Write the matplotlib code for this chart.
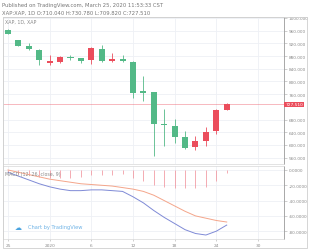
import matplotlib
matplotlib.use("Agg")
import matplotlib.pyplot as plt
from matplotlib.patches import Rectangle

# daily candles, oldest first (green = falling, red = rising on this chart)
opens = [963, 930, 912, 900, 858, 861, 876, 873, 866, 902, 865,
         872, 862, 770, 766, 666, 661, 626, 593, 611, 645, 710.04]
highs = [966, 932, 921, 903, 883, 880, 883, 875, 907, 916, 890,
         883, 864, 818, 768, 713, 682, 643, 629, 657, 712, 730.78]
lows = [948, 911, 899, 852, 852, 859, 869, 859, 855, 861, 860,
        860, 747, 740, 566, 598, 606, 588, 585, 598, 635, 709.82]
closes = [950, 913, 901, 866, 863, 878, 875, 864, 905, 864, 872,
          863, 765, 764, 666, 664, 625, 591, 612, 641, 711, 727.51]

macd = [-3, -8, -13, -18, -22, -25, -27, -27, -26, -26, -27,
        -28, -35, -43, -53, -62, -70, -78, -83, -85, -80, -72]
signal = [0, -3, -6, -9, -12, -14, -16, -18, -19, -20, -21,
          -23, -25, -28, -33, -40, -47, -54, -60, -63, -66, -68]
hist = [-3, -5, -7, -9, -10, -11, -11, -9, -7, -6, -6,
        -5, -10, -15, -20, -22, -23, -24, -23, -22, -14, -4]

price_ticks = [560, 600, 640, 680, 760, 800, 840, 880, 920, 960, 1000]
macd_ticks = [0, -20, -40, -60, -80]
date_labels = ["25", "2020", "6", "12", "18", "24", "30"]

GREEN = "#53b987"
RED = "#eb4d5c"
GRID = "#eef0f5"
TXT = "#8a8a8a"

W, H = 310, 251
fig = plt.figure(figsize=(W / 100, H / 100), dpi=100)
fig.patch.set_facecolor("white")

def frac(x0, y0, x1, y1):
    return [x0 / W, 1 - y1 / H, (x1 - x0) / W, (y1 - y0) / H]

ax1 = fig.add_axes(frac(3, 18, 284, 165))
ax2 = fig.add_axes(frac(3, 167, 284, 240))

xs = list(range(len(opens)))
for ax in (ax1, ax2):
    ax.set_xlim(-0.48, 26.5)
    ax.set_xticks(range(0, 25, 4))
    ax.grid(True, color=GRID, linewidth=0.6)
    ax.set_axisbelow(True)
    ax.yaxis.tick_right()
    ax.tick_params(axis="y", labelsize=3.1, colors="#aaaaaa", labelcolor=TXT,
                   length=2, width=0.4, pad=1.5)
    for side in ("top", "left", "bottom"):
        ax.spines[side].set_color("#d8d8d8")
        ax.spines[side].set_linewidth(0.5)
    ax.spines["right"].set_color("#9a9a9a")
    ax.spines["right"].set_linewidth(0.6)

# candles
for x, o, h, l, c in zip(xs, opens, highs, lows, closes):
    col = RED if c >= o else GREEN
    ax1.vlines(x, l, h, color=col, linewidth=0.6, zorder=2)
    body = max(abs(c - o), 1.5)
    ax1.bar(x, body, bottom=min(o, c), width=0.58, color=col, linewidth=0, zorder=3)

last = closes[-1]
ax1.axhline(last, color=RED, linewidth=0.5, alpha=0.55, zorder=1)
ax1.set_ylim(540, 1003)
ax1.set_yticks(price_ticks)
ax1.set_yticklabels([f"{v:.3f}" for v in price_ticks])
ax1.tick_params(axis="x", length=0, labelbottom=False)
ax1.text(1.004, last, f"{last:.3f}", transform=ax1.get_yaxis_transform(),
         fontsize=3.1, color="white", va="center", ha="left",
         bbox=dict(boxstyle="square,pad=0.2", fc=RED, ec="none"))
ax1.text(0.008, 0.985, "XAP, 1D, XAP", transform=ax1.transAxes,
         fontsize=3.4, color=TXT, va="top", ha="left")

# MACD panel
ax2.vlines(xs, 0, hist, color="#f08a94", linewidth=0.5, zorder=2)
ax2.plot(xs, signal, color="#f4a58a", linewidth=0.7, zorder=3)
ax2.plot(xs, macd, color="#7f8ad6", linewidth=0.7, zorder=3)
ax2.set_ylim(-90.2, 5.2)
ax2.set_yticks(macd_ticks)
ax2.set_yticklabels([f"{v:.4f}" for v in macd_ticks])
ax2.set_xticklabels(date_labels)
ax2.tick_params(axis="x", labelsize=3.1, colors="#aaaaaa", labelcolor=TXT,
                length=1.5, width=0.4, pad=1.5)
ax2.text(0.008, 0.93, "MACD (12, 26, close, 9)", transform=ax2.transAxes,
         fontsize=3.4, color=TXT, va="top", ha="left")
ax2.text(0.04, 0.17, "\u2601", transform=ax2.transAxes,
         fontsize=5, color="#4aa3df", va="center", ha="left")
ax2.text(0.09, 0.17, "Chart by TradingView", transform=ax2.transAxes,
         fontsize=3.7, color="#6fb3e6", va="center", ha="left")

# outer frame and header
fig.add_artist(Rectangle((3 / W, 1 - 249 / H), 304 / W, 231 / H,
                         transform=fig.transFigure, fill=False,
                         edgecolor="#cfcfcf", linewidth=0.6))
fig.text(2 / W, 1 - 5 / H, "Published on TradingView.com, March 25, 2020 11:53:33 CST",
         fontsize=3.8, color="#777777", va="center", ha="left")
fig.text(2 / W, 1 - 13 / H, "XAP:XAP, 1D O:710.040 H:730.780 L:709.820 C:727.510",
         fontsize=3.8, color="#777777", va="center", ha="left")

fig.savefig("out.png", dpi=100)
